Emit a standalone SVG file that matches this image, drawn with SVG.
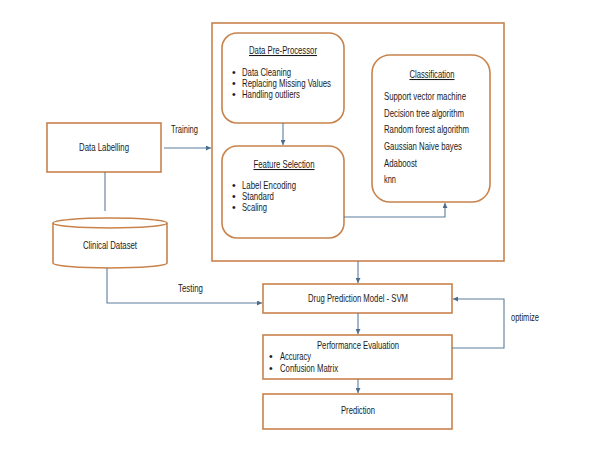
<svg xmlns="http://www.w3.org/2000/svg" width="596" height="457" viewBox="0 0 596 457">
<style>
.box{fill:#fff;stroke:#C8834C;stroke-width:1.6}
.ln{fill:none;stroke:#5B7C9C;stroke-width:1.1}
text{font-family:"Liberation Sans",Arial,sans-serif;font-size:10.5px;fill:#1a1a1a}
.t{text-decoration:underline}
.m{text-anchor:middle}
</style>
<defs>
<marker id="ah" viewBox="0 0 6 6" refX="6" refY="3" markerWidth="5" markerHeight="5" orient="auto" markerUnits="userSpaceOnUse">
<path d="M0,0 L6,3 L0,6 z" fill="#4A6D8F"/>
</marker>
</defs>
<rect width="596" height="457" fill="#fff"/>
<g id="outer"><rect class="box" x="212" y="23" width="292" height="238"/></g>
<g id="preprocessor">
<rect class="box" x="222" y="33" width="122" height="90" rx="15"/>
<text class="t m" x="283" y="54" textLength="68" lengthAdjust="spacingAndGlyphs">Data Pre-Processor</text>
<text x="232" y="76">•</text><text x="242" y="76" textLength="49" lengthAdjust="spacingAndGlyphs">Data Cleaning</text>
<text x="232" y="87">•</text><text x="242" y="87" textLength="89" lengthAdjust="spacingAndGlyphs">Replacing Missing Values</text>
<text x="232" y="98">•</text><text x="242" y="98" textLength="58" lengthAdjust="spacingAndGlyphs">Handling outliers</text>
</g>
<g id="feature">
<rect class="box" x="222" y="146" width="122" height="92" rx="15"/>
<text class="t m" x="284" y="168" textLength="61" lengthAdjust="spacingAndGlyphs">Feature Selection</text>
<text x="232" y="189">•</text><text x="242" y="189" textLength="54" lengthAdjust="spacingAndGlyphs">Label Encoding</text>
<text x="232" y="200">•</text><text x="242" y="200" textLength="32" lengthAdjust="spacingAndGlyphs">Standard</text>
<text x="232" y="211">•</text><text x="242" y="211" textLength="25" lengthAdjust="spacingAndGlyphs">Scaling</text>
</g>
<g id="classification">
<rect class="box" x="372" y="55" width="118" height="147" rx="18"/>
<text class="t m" x="432" y="78" textLength="45" lengthAdjust="spacingAndGlyphs">Classification</text>
<text x="384" y="100" textLength="82" lengthAdjust="spacingAndGlyphs">Support vector machine</text>
<text x="384" y="117" textLength="80" lengthAdjust="spacingAndGlyphs">Decision tree algorithm</text>
<text x="384" y="133" textLength="85" lengthAdjust="spacingAndGlyphs">Random forest algorithm</text>
<text x="384" y="150" textLength="78" lengthAdjust="spacingAndGlyphs">Gaussian Naive bayes</text>
<text x="384" y="167" textLength="33" lengthAdjust="spacingAndGlyphs">Adaboost</text>
<text x="384" y="183" textLength="12" lengthAdjust="spacingAndGlyphs">knn</text>
</g>
<g id="labelling">
<rect class="box" x="47" y="123" width="114" height="49"/>
<text x="79" y="151" textLength="50" lengthAdjust="spacingAndGlyphs">Data Labelling</text>
</g>
<g id="dataset">
<path class="box" d="M53,223 L53,263 A57,5 0 0 0 167,263 L167,223"/>
<ellipse class="box" cx="110" cy="223" rx="57" ry="5"/>
<text x="83" y="249" textLength="54" lengthAdjust="spacingAndGlyphs">Clinical Dataset</text>
</g>
<g id="drugmodel">
<rect class="box" x="263" y="284" width="189" height="29"/>
<text x="308" y="302" textLength="100" lengthAdjust="spacingAndGlyphs">Drug Prediction Model - SVM</text>
</g>
<g id="evaluation">
<rect class="box" x="263" y="335" width="189" height="44"/>
<text x="317" y="349" textLength="82" lengthAdjust="spacingAndGlyphs">Performance Evaluation</text>
<text x="269" y="360">•</text><text x="280" y="360" textLength="31" lengthAdjust="spacingAndGlyphs">Accuracy</text>
<text x="269" y="372">•</text><text x="280" y="372" textLength="58" lengthAdjust="spacingAndGlyphs">Confusion Matrix</text>
</g>
<g id="prediction">
<rect class="box" x="263" y="394" width="189" height="35"/>
<text x="341" y="414" textLength="34" lengthAdjust="spacingAndGlyphs">Prediction</text>
</g>
<g id="connectors">
<line class="ln" x1="283" y1="123" x2="283" y2="145" marker-end="url(#ah)"/>
<polyline class="ln" points="344,217 445,217 445,203" marker-end="url(#ah)"/>
<line class="ln" x1="164" y1="148" x2="211" y2="148" marker-end="url(#ah)"/>
<line class="ln" x1="105" y1="172" x2="105" y2="211"/>
<polyline class="ln" points="107,268 107,303 262,303" marker-end="url(#ah)"/>
<line class="ln" x1="358" y1="261" x2="358" y2="283" marker-end="url(#ah)"/>
<line class="ln" x1="358" y1="313" x2="358" y2="334" marker-end="url(#ah)"/>
<line class="ln" x1="358" y1="379" x2="358" y2="393" marker-end="url(#ah)"/>
<polyline class="ln" points="452,348 504,348 504,299 453,299" marker-end="url(#ah)"/>
<text x="171" y="133" textLength="27" lengthAdjust="spacingAndGlyphs">Training</text>
<text x="178" y="292" textLength="25" lengthAdjust="spacingAndGlyphs">Testing</text>
<text x="511" y="321" textLength="28" lengthAdjust="spacingAndGlyphs">optimize</text>
</g>
</svg>
